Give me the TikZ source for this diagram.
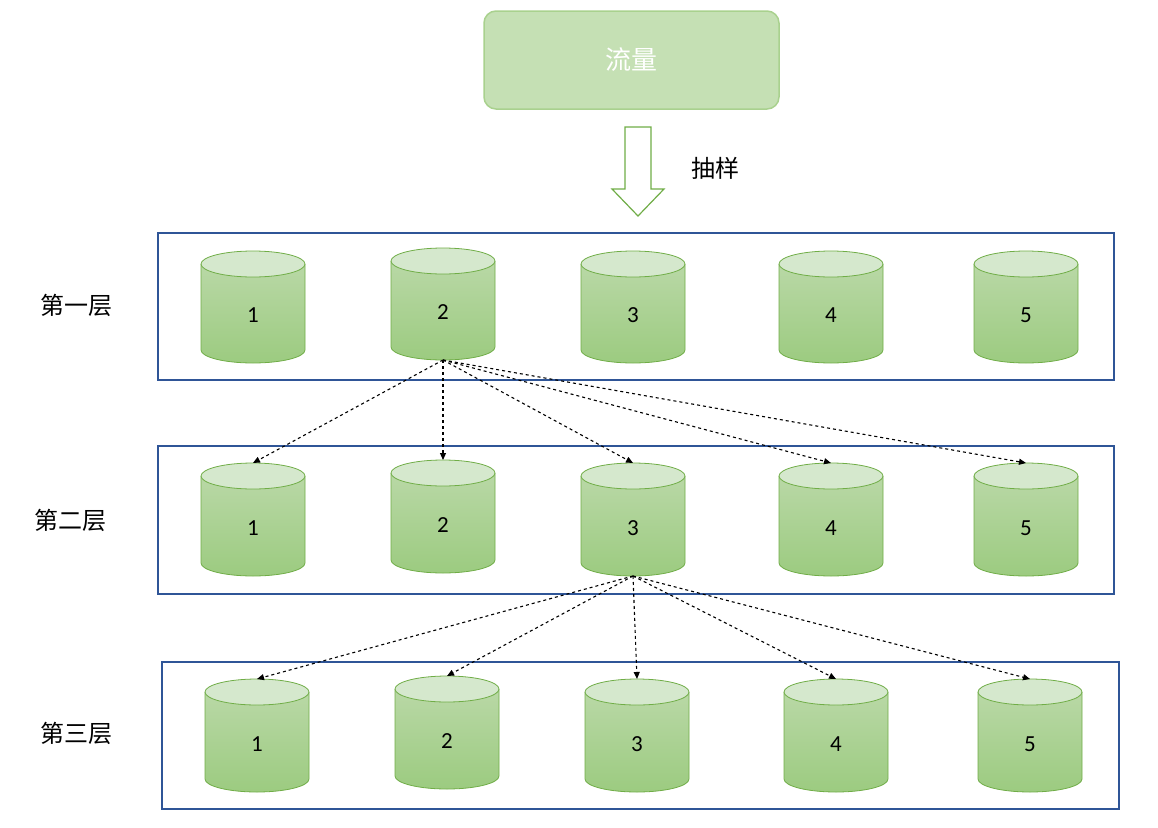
\documentclass[tikz,border=0pt]{standalone}
\usepackage{fontspec}
\setmainfont{Carlito}
\newfontfamily\cjk{Noto Sans CJK SC}
\usetikzlibrary{arrows.meta}
\definecolor{gstroke}{HTML}{70AD47}
\definecolor{gtop}{HTML}{D5E8CD}
\definecolor{gbodyT}{HTML}{B9D8A6}
\definecolor{gbodyB}{HTML}{9CCB80}
\definecolor{flowfill}{HTML}{C5E0B4}
\definecolor{flowline}{HTML}{A9D18E}
\definecolor{lbox}{HTML}{2F5597}
\tikzset{
 layer/.style={draw=lbox,line width=1.2pt},
 lyr/.style={font=\cjk\fontsize{24}{26}\selectfont},
 num/.style={font=\fontsize{23}{25}\selectfont},
 link/.style={dashed,line width=1.1pt,-{Triangle[length=7pt,width=6pt]}},
}
\newcommand\mycyl[5]{%
 \shade[top color=gbodyT,bottom color=gbodyB] (#2-52,#3) -- (#2-52,#4) arc[start angle=180,end angle=0,x radius=52,y radius=13] -- (#2+52,#3) -- cycle;
 \draw[gstroke,line width=0.8pt] (#2-52,#3) -- (#2-52,#4) arc[start angle=180,end angle=0,x radius=52,y radius=13] -- (#2+52,#3);
 \draw[gstroke,fill=gtop,line width=0.8pt] (#2,#3) ellipse[x radius=52,y radius=13];
 \node[num] (#1) at (#2,{(#3+#4+13)/2+2}) {#5};
 \coordinate (#1t) at (#2,#3-13);
 \coordinate (#1b) at (#2,#4+13);
}
\begin{document}
\begin{tikzpicture}[x=1pt,y=-1pt]
\useasboundingbox (0,0) rectangle (1158,827);
\node[draw=flowline,fill=flowfill,rounded corners=12pt,line width=1.5pt,minimum width=295pt,minimum height=98pt,text=white,font=\cjk\fontsize{26}{28}\selectfont] (flow) at (631.5,60) {流量};
\draw[gstroke,line width=1.2pt,fill=white] (625,127) -- (651,127) -- (651,189) -- (664,189) -- (638,216) -- (612,189) -- (625,189) -- cycle;
\node[lyr] (samp) at (715,168) {抽样};
\draw[layer] (158,233) rectangle (1114,380);
\draw[layer] (158,446) rectangle (1114,594);
\draw[layer] (162,662) rectangle (1119,809);
\node[lyr] (l1) at (76,305) {第一层};
\node[lyr] (l2) at (70,520) {第二层};
\node[lyr] (l3) at (76,733) {第三层};
\mycyl{a1}{253}{264}{350}{1}
\mycyl{a2}{443}{261}{347}{2}
\mycyl{a3}{633}{264}{350}{3}
\mycyl{a4}{831}{264}{350}{4}
\mycyl{a5}{1026}{264}{350}{5}
\mycyl{b1}{253}{476}{563}{1}
\mycyl{b2}{443}{473}{560}{2}
\mycyl{b3}{633}{476}{563}{3}
\mycyl{b4}{831}{476}{563}{4}
\mycyl{b5}{1026}{476}{563}{5}
\mycyl{c1}{257}{692}{779}{1}
\mycyl{c2}{447}{689}{776}{2}
\mycyl{c3}{637}{692}{779}{3}
\mycyl{c4}{836}{692}{779}{4}
\mycyl{c5}{1030}{692}{779}{5}
\foreach \i in {1,...,5} {
 \draw[link] (a2b) -- (b\i t);
 \draw[link] (b3b) -- (c\i t);
}
\end{tikzpicture}
\end{document}
